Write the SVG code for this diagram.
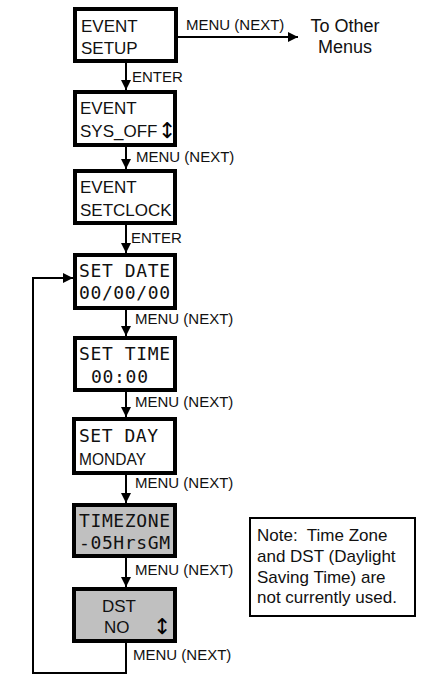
<svg xmlns="http://www.w3.org/2000/svg" width="440" height="686" viewBox="0 0 440 686">
<style>
.box{fill:#fff;stroke:#000;stroke-width:4}
.gray{fill:#c0c0c0}
.t{font-family:"Liberation Sans",Arial,sans-serif;font-size:17px;fill:#111}
.m{font-family:"DejaVu Sans Mono","Liberation Mono",monospace;font-size:18px;fill:#111}
.lbl{font-family:"Liberation Sans",Arial,sans-serif;font-size:15px;fill:#111}
.sym{font-family:"DejaVu Sans",sans-serif;font-size:22px;fill:#000}
.n{font-family:"Liberation Sans",Arial,sans-serif;font-size:17px;fill:#111}
.c{fill:none;stroke:#000;stroke-width:2}
.note{fill:#fff;stroke:#000;stroke-width:2}
</style>
<defs>
<marker id="ah" viewBox="0 0 10 10" refX="10" refY="5" markerWidth="5.5" markerHeight="5" orient="auto" markerUnits="strokeWidth">
<path d="M0,0 L10,5 L0,10 z" fill="#000"/>
</marker>
</defs>
<g id="connectors">
<line class="c" x1="178" y1="37" x2="298" y2="37" marker-end="url(#ah)"/>
<line class="c" x1="126" y1="63" x2="126" y2="90" marker-end="url(#ah)"/>
<line class="c" x1="126" y1="147" x2="126" y2="169" marker-end="url(#ah)"/>
<line class="c" x1="126" y1="225" x2="126" y2="253" marker-end="url(#ah)"/>
<line class="c" x1="126" y1="310" x2="126" y2="336" marker-end="url(#ah)"/>
<line class="c" x1="126" y1="392" x2="126" y2="417" marker-end="url(#ah)"/>
<line class="c" x1="126" y1="475" x2="126" y2="503" marker-end="url(#ah)"/>
<line class="c" x1="126" y1="558" x2="126" y2="587" marker-end="url(#ah)"/>
<polyline class="c" points="126,643 126,673 33,673 33,278 73,278" marker-end="url(#ah)"/>
<text class="lbl" x="186" y="30">MENU (NEXT)</text>
<text class="lbl" x="132" y="82">ENTER</text>
<text class="lbl" x="136" y="162">MENU (NEXT)</text>
<text class="lbl" x="131" y="243">ENTER</text>
<text class="lbl" x="135" y="324">MENU (NEXT)</text>
<text class="lbl" x="135" y="407">MENU (NEXT)</text>
<text class="lbl" x="135" y="488">MENU (NEXT)</text>
<text class="lbl" x="135" y="575">MENU (NEXT)</text>
<text class="lbl" x="133" y="660">MENU (NEXT)</text>
</g>
<g id="other-menus">
<text class="t" x="345" y="32" text-anchor="middle" style="font-size:18px">To Other</text>
<text class="t" x="345" y="53" text-anchor="middle" style="font-size:18px">Menus</text>
</g>
<g id="event-setup">
<rect class="box" x="75" y="9" width="101" height="52"/>
<text class="t" x="81" y="32">EVENT</text>
<text class="t" x="81" y="54">SETUP</text>
</g>
<g id="event-sysoff">
<rect class="box" x="75" y="92" width="100" height="53"/>
<text class="t" x="80" y="114">EVENT</text>
<text class="t" x="80" y="137">SYS_OFF</text>
<text class="sym" x="158" y="138">↕</text>
</g>
<g id="event-setclock">
<rect class="box" x="75" y="171" width="100" height="52"/>
<text class="t" x="80" y="193">EVENT</text>
<text class="t" x="80" y="216">SETCLOCK</text>
</g>
<g id="set-date">
<rect class="box" x="75" y="255" width="100" height="53"/>
<text class="m" x="79" y="277" textLength="91" lengthAdjust="spacing">SET DATE</text>
<text class="m" x="79" y="299" textLength="91" lengthAdjust="spacing">00/00/00</text>
</g>
<g id="set-time">
<rect class="box" x="75" y="338" width="100" height="52"/>
<text class="m" x="79" y="360" textLength="91" lengthAdjust="spacing">SET TIME</text>
<text class="m" x="91" y="383" textLength="57" lengthAdjust="spacing">00:00</text>
</g>
<g id="set-day">
<rect class="box" x="74" y="419" width="101" height="54"/>
<text class="m" x="79" y="442" textLength="79" lengthAdjust="spacing">SET DAY</text>
<text class="t" x="79" y="465" textLength="67" lengthAdjust="spacingAndGlyphs">MONDAY</text>
</g>
<g id="timezone">
<rect class="box gray" x="74" y="505" width="101" height="51"/>
<text class="m" x="79" y="527" textLength="91" lengthAdjust="spacing">TIMEZONE</text>
<text class="m" x="79" y="549" textLength="91" lengthAdjust="spacing">-05HrsGM</text>
</g>
<g id="dst">
<rect class="box gray" x="74" y="589" width="101" height="52"/>
<text class="t" x="102" y="612">DST</text>
<text class="t" x="104" y="633">NO</text>
<text class="sym" x="153" y="634">↕</text>
</g>
<g id="note">
<rect class="note" x="250" y="518" width="165" height="98"/>
<text class="n" x="257" y="541" xml:space="preserve">Note:  Time Zone</text>
<text class="n" x="257" y="562">and DST (Daylight</text>
<text class="n" x="257" y="583">Saving Time) are</text>
<text class="n" x="257" y="603">not currently used.</text>
</g>
</svg>
